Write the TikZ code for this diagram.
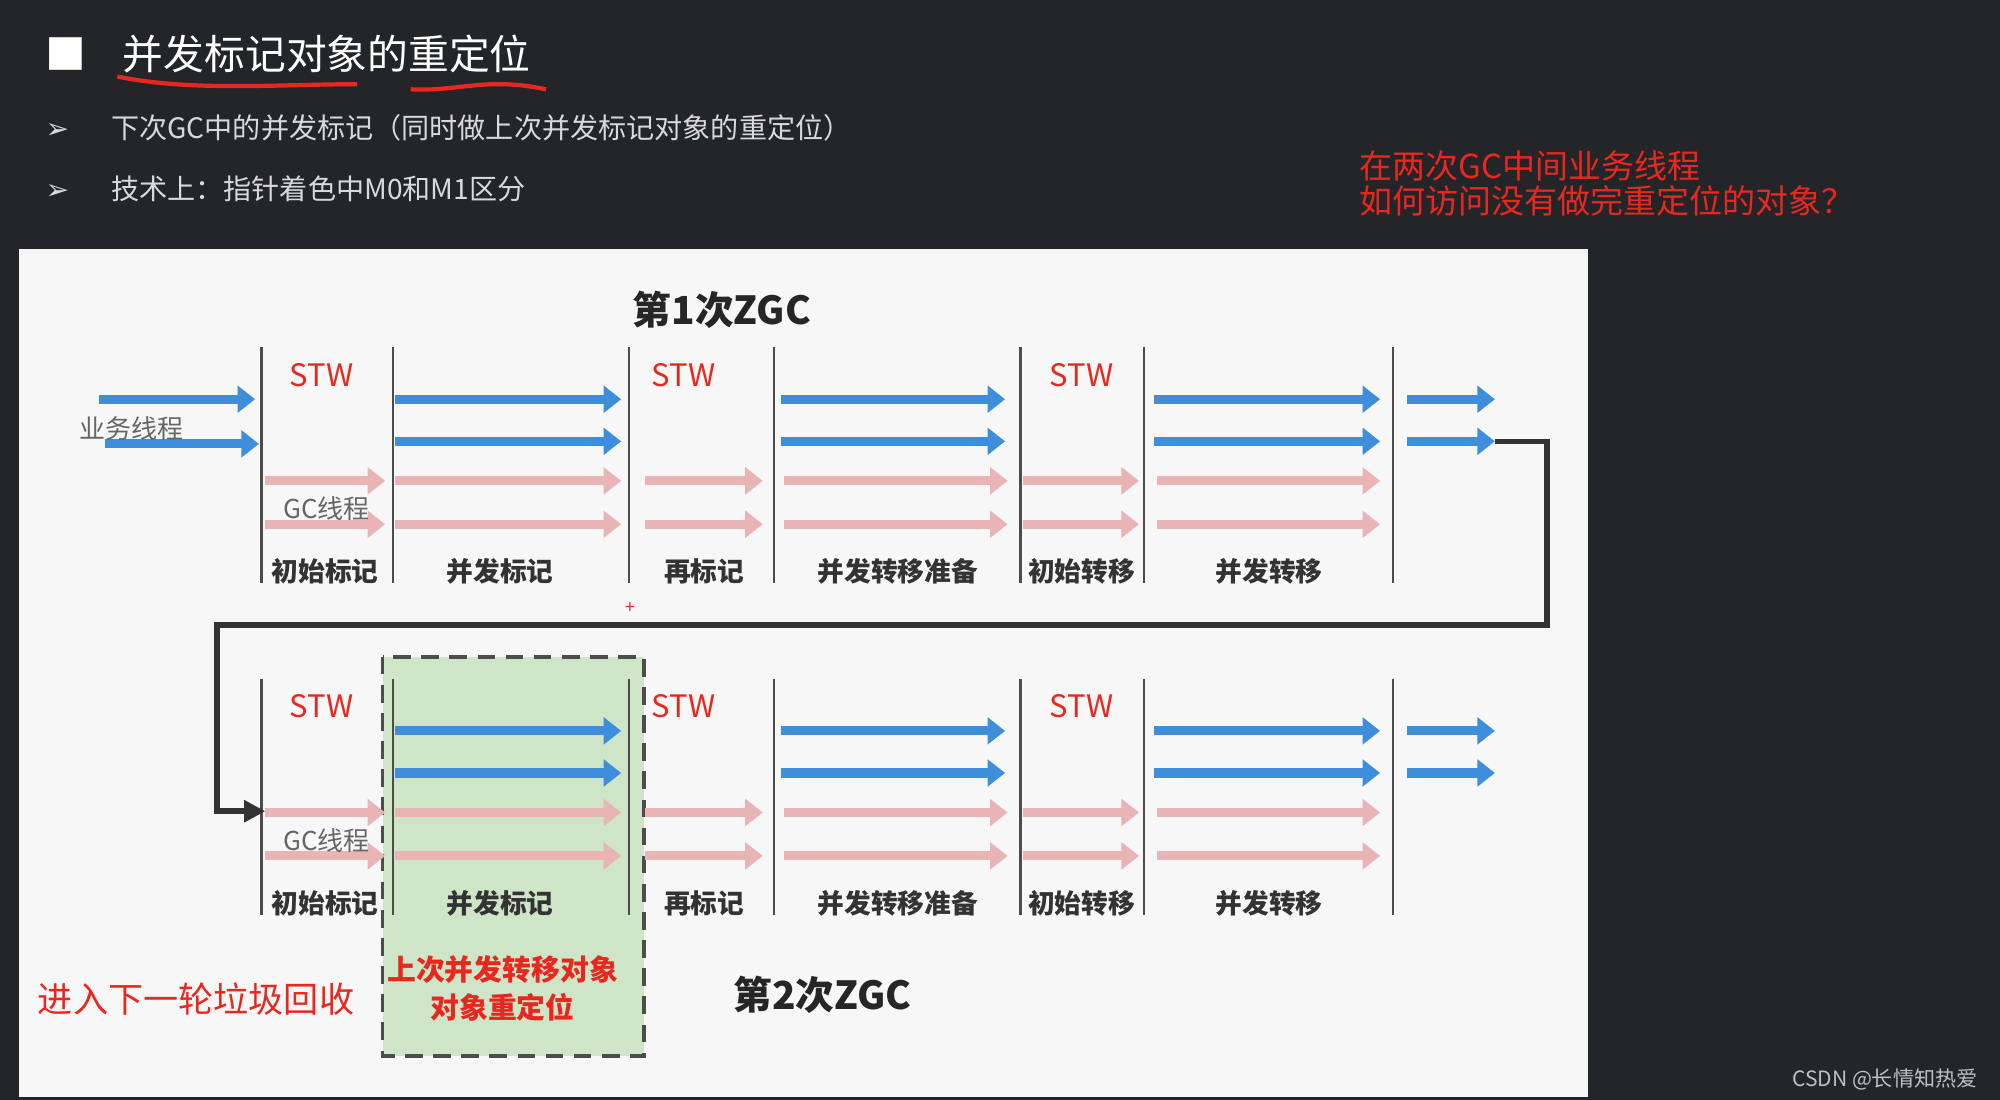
\documentclass[tikz,border=0pt]{standalone}
\usepackage{fontspec}
\setmainfont{Noto Sans CJK SC}
\newfontfamily\symfont{DejaVu Sans}
\usetikzlibrary{arrows.meta}
\definecolor{slide}{HTML}{232529}
\definecolor{panel}{HTML}{F7F7F7}
\definecolor{bluearr}{HTML}{3F8EDC}
\definecolor{pinkarr}{HTML}{E9B4B6}
\definecolor{redtxt}{HTML}{E8281E}
\definecolor{boxgreen}{HTML}{CFE5C8}
\newcommand\phasefont{\fontsize{7.6}{8}\selectfont\bfseries}
\newcommand\bulletmark{{\symfont ➢}}

\begin{document}
\begin{tikzpicture}[x=0.012755cm, y=-0.012755cm]
  \tikzstyle{blue arrow} = [draw=bluearr, line width=2.6pt, -{Triangle[length=5pt, width=7.5pt]}]
  \tikzstyle{gc arrow} = [draw=pinkarr, line width=2.6pt, -{Triangle[length=5pt, width=7.5pt]}]
  \tikzstyle{stage} = [draw=black!70, line width=0.7pt]
  \tikzstyle{stw} = [text=redtxt, font=\fontsize{8.8}{9}\selectfont]
  \tikzstyle{phase} = [text=black!80, font=\phasefont]
\useasboundingbox (0,0) rectangle (1568,862);
\fill[slide] (0,0) rectangle (1568,862);
\fill[panel] (15,195) rectangle (1245,860);
% header
\node[anchor=west, text=white, font=\fontsize{11.6}{12}\selectfont] (title) at (26,42) {■\hspace{0.9em}并发标记对象的重定位};
\draw[redtxt, line width=1.2pt] (92,60) .. controls (150,72) and (220,66) .. (280,66);
\draw[redtxt, line width=1.2pt] (322,70) .. controls (360,72) and (380,60) .. (428,70);
\node[anchor=west, text=white!85!black, font=\fontsize{8}{9}\selectfont] (b1) at (26,100) {\bulletmark\hspace{1.5em}下次GC中的并发标记（同时做上次并发标记对象的重定位）};
\node[anchor=west, text=white!85!black, font=\fontsize{8}{9}\selectfont] (b2) at (26,148) {\bulletmark\hspace{1.5em}技术上：指针着色中M0和M1区分};
\node[anchor=west, text=redtxt, font=\fontsize{9.4}{10}\selectfont, align=left] (ask) at (1056,144) {在两次GC中间业务线程\\如何访问没有做完重定位的对象？};
% green box
\draw[dashed, draw=black!70, line width=1pt, fill=boxgreen, dash pattern=on 5pt off 3pt] (300,515) rectangle (505,828);
\node[text=redtxt, font=\fontsize{8.2}{11}\selectfont\bfseries, align=center] (reloc) at (394,775) {上次并发转移对象\\对象重定位};
\node[anchor=west, text=redtxt, font=\fontsize{10}{11}\selectfont] (next) at (20,783) {进入下一轮垃圾回收};
\node[font=\fontsize{11}{12}\selectfont\bfseries, text=black!85] (zgc1) at (566,243) {第1次ZGC};
\node[font=\fontsize{11}{12}\selectfont\bfseries, text=black!85] (zgc2) at (645,780) {第2次ZGC};
\node[text=redtxt, font=\tiny] (plus) at (494,477) {+};
% two rounds
\foreach \d in {0,260} {
  \foreach \x in {205,308,493,607,800,897,1092}
    \draw[stage] (\x,272+\d) -- (\x,457+\d);
  \foreach \x/\nm in {252/stw1,536/stw2,848/stw3}
    \node[stw] (\nm) at (\x,294+\d) {STW};
  \foreach \xa/\xb in {310/487,612/788,905/1082,1103/1172} {
    \draw[blue arrow] (\xa,313+\d) -- (\xb,313+\d);
    \draw[blue arrow] (\xa,346+\d) -- (\xb,346+\d);
  }
  \foreach \xa/\xb in {208/302,310/487,506/598,615/790,802/893,907/1082} {
    \draw[gc arrow] (\xa,377+\d) -- (\xb,377+\d);
    \draw[gc arrow] (\xa,411+\d) -- (\xb,411+\d);
  }
  \node[text=black!60, font=\fontsize{7.4}{8}\selectfont] (gc) at (256,399+\d) {GC线程};
  \foreach \x/\t in {255/初始标记,392/并发标记,552/再标记,704/并发转移准备,848/初始转移,995/并发转移}
    \node[phase] at (\x,448+\d) {\t};
}
\draw[blue arrow] (78,313) -- (200,313);
\draw[blue arrow] (82,348) -- (203,348);
\node[text=black!60, font=\fontsize{7.4}{8}\selectfont] (biz) at (103,336) {业务线程};
% link from round 1 to round 2
\coordinate (out) at (1172,346);
\coordinate (in) at (208,636);
\draw[black!80, line width=1.6pt, -{Triangle[length=6pt, width=6pt]}] (out) -| (1213,490) -| (170,636) -- (in);
\node[anchor=east, text=white!75!black, font=\fontsize{6}{7}\selectfont] (mark) at (1560,846) {CSDN @长情知热爱};
\end{tikzpicture}
\end{document}
